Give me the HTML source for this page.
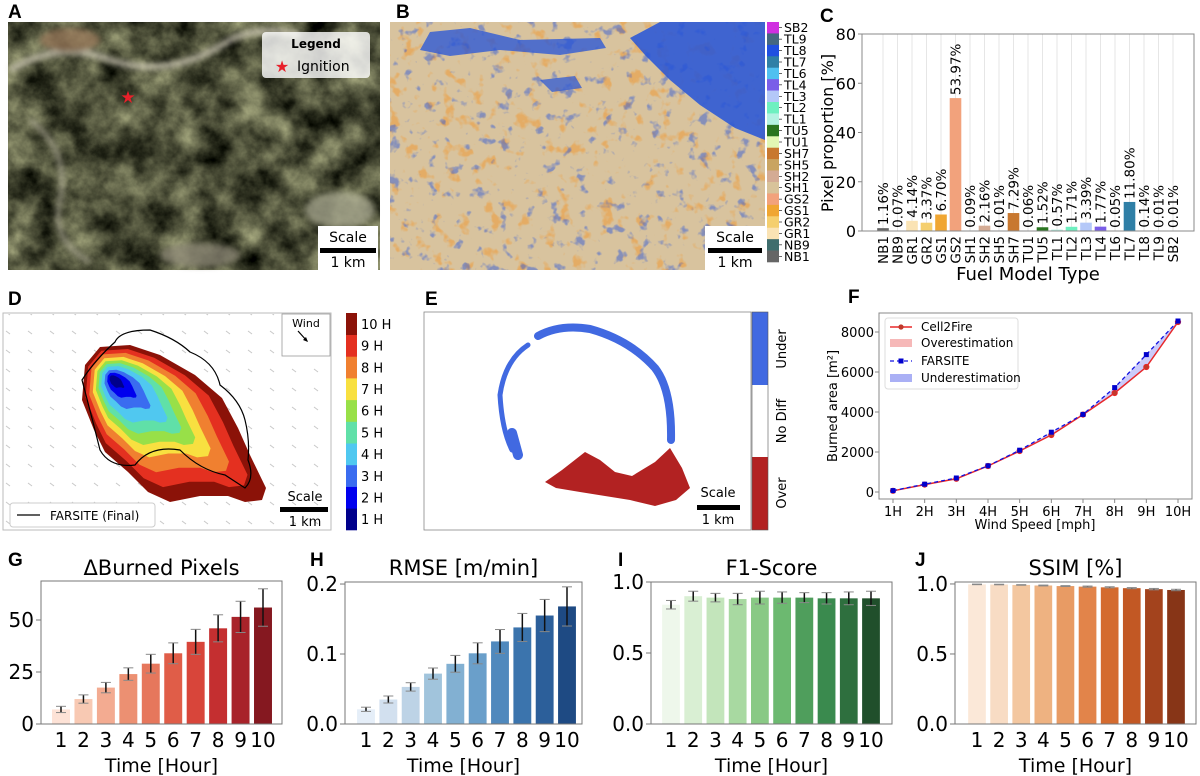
<!DOCTYPE html>
<html><head><meta charset="utf-8">
<style>
html,body{margin:0;padding:0;background:#fff;}
svg{display:block;font-family:"DejaVu Sans","Liberation Sans",sans-serif;}
</style></head>
<body>
<svg id="fig" width="1200" height="776" viewBox="0 0 1200 776" xmlns="http://www.w3.org/2000/svg">
<defs>
<filter id="satNoise" x="0" y="0" width="100%" height="100%" color-interpolation-filters="sRGB">
<feTurbulence type="fractalNoise" baseFrequency="0.03" numOctaves="5" seed="7"/>
<feColorMatrix type="matrix" values="0.95 0 0 0 -0.17  0.95 0 0 0 -0.16  0.75 0 0 0 -0.15  0 0 0 0 1"/>
</filter>
<filter id="fuelNoise" x="0" y="0" width="100%" height="100%" color-interpolation-filters="sRGB">
<feTurbulence type="fractalNoise" baseFrequency="0.07" numOctaves="3" seed="3"/>
<feColorMatrix type="matrix" values="0 0 0 0 0.93  0 0 0 0 0.62  0 0 0 0 0.25  7 0 0 0 -4.2"/>
</filter>
<filter id="blueNoise" x="0" y="0" width="100%" height="100%" color-interpolation-filters="sRGB">
<feTurbulence type="fractalNoise" baseFrequency="0.08" numOctaves="3" seed="11"/>
<feColorMatrix type="matrix" values="0 0 0 0 0.14  0 0 0 0 0.32  0 0 0 0 0.86  7 0 0 0 -4.4"/>
</filter>
<filter id="blur3"><feGaussianBlur stdDeviation="3"/></filter>
<pattern id="windDash" width="22" height="19" patternUnits="userSpaceOnUse">
<line x1="6" y1="8" x2="10" y2="11" stroke="#c8c8c8" stroke-width="1"/>
</pattern>
</defs>

<!-- Panel A -->
<g>
<text x="8" y="18" font-size="19" font-weight="bold" font-family="Liberation Sans, sans-serif">A</text>
<rect x="8" y="22" width="372" height="248" fill="#4a4c38"/>
<rect x="8" y="22" width="372" height="248" filter="url(#satNoise)"/>
<g filter="url(#blur3)" opacity="0.75">
<path d="M10,70 Q60,40 110,60 Q170,80 230,40 Q260,25 300,35" stroke="#d8d2c0" stroke-width="6" fill="none"/>
<path d="M30,120 Q70,150 60,200 Q50,240 90,262" stroke="#b8b4a0" stroke-width="4" fill="none"/>
<ellipse cx="340" cy="210" rx="35" ry="18" fill="#a8a890"/>
<ellipse cx="200" cy="255" rx="40" ry="12" fill="#8f8a78"/>
<ellipse cx="70" cy="40" rx="30" ry="12" fill="#a08060"/>
</g>
<g>
<rect x="262" y="32" width="108" height="46" rx="4" fill="#ffffff" opacity="0.8"/>
<text x="316" y="48" font-size="12" font-weight="bold" text-anchor="middle">Legend</text>
<text x="282" y="72" font-size="16" fill="#e8202a" text-anchor="middle">★</text>
<text x="297" y="71" font-size="14">Ignition</text>
</g>
<text x="128" y="103" font-size="17" fill="#e8202a" text-anchor="middle">★</text>
<g>
<rect x="318" y="226" width="60" height="44" fill="#fff"/>
<text x="348" y="242" font-size="14" text-anchor="middle">Scale</text>
<rect x="320" y="248" width="56" height="5" fill="#000"/>
<text x="348" y="267" font-size="14" text-anchor="middle">1 km</text>
</g>
</g>

<!-- Panel B -->
<g>
<text x="396" y="18" font-size="19" font-weight="bold" font-family="Liberation Sans, sans-serif">B</text>
<rect x="390" y="22" width="375" height="248" fill="#d8c39e"/>
<rect x="390" y="22" width="375" height="248" filter="url(#fuelNoise)" opacity="0.6"/>
<rect x="390" y="22" width="375" height="248" filter="url(#blueNoise)" opacity="0.45"/>
<g fill="#2453d8">
<path d="M660,22 L765,22 L765,140 L735,128 L700,105 L670,80 L645,55 L630,38 Z" opacity="0.85"/>
<path d="M430,32 L470,28 L520,40 L600,38 L606,48 L560,55 L500,50 L450,56 L420,50 Z" opacity="0.75"/>
<path d="M540,80 L575,76 L582,88 L552,92 Z" opacity="0.7"/>
</g>
<g>
<rect x="705" y="226" width="60" height="44" fill="#fff"/>
<text x="735" y="242" font-size="14" text-anchor="middle">Scale</text>
<rect x="708" y="248" width="54" height="5" fill="#000"/>
<text x="735" y="267" font-size="14" text-anchor="middle">1 km</text>
</g>
<g id="fuelBar"></g>
</g>

<!-- Panel C -->
<g id="panelC">
<text x="820" y="22" font-size="19" font-weight="bold" font-family="Liberation Sans, sans-serif">C</text>
</g>

<!-- Panel D -->
<g>
<text x="8" y="305" font-size="19" font-weight="bold" font-family="Liberation Sans, sans-serif">D</text>
<rect x="3" y="313" width="328" height="217" fill="#fff" stroke="#bbb"/>
<rect x="4" y="314" width="326" height="215" fill="url(#windDash)"/>
<g id="fireLayers"></g>
<path d="M115,342 Q120,330 150,330 Q175,338 190,352 Q215,362 220,385 Q240,400 245,420 Q250,440 248,460 Q255,478 245,488 L225,475 Q200,470 180,450 Q150,445 135,465 Q110,468 100,450 Q90,410 82,380 Q95,360 115,342 Z" fill="none" stroke="#000" stroke-width="1.2"/>
<g>
<rect x="282" y="314" width="48" height="42" fill="#fff" stroke="#999" stroke-width="0.8"/>
<text x="306" y="327" font-size="11" text-anchor="middle">Wind</text>
<line x1="298" y1="331" x2="307" y2="341" stroke="#000" stroke-width="1.2"/>
<path d="M308,342 L303,340 L306,337 Z" fill="#000"/>
</g>
<g>
<rect x="10" y="503" width="145" height="24" rx="3" fill="#fff" stroke="#ccc"/>
<line x1="17" y1="515" x2="40" y2="515" stroke="#000" stroke-width="1.3"/>
<text x="50" y="520" font-size="12">FARSITE (Final)</text>
</g>
<g>
<text x="305" y="501" font-size="13" text-anchor="middle">Scale</text>
<rect x="280" y="507" width="48" height="5" fill="#000"/>
<text x="305" y="526" font-size="13" text-anchor="middle">1 km</text>
</g>
<g id="timeBar"></g>
</g>

<!-- Panel E -->
<g>
<text x="425" y="305" font-size="19" font-weight="bold" font-family="Liberation Sans, sans-serif">E</text>
<rect x="424" y="312" width="327" height="218" fill="#fff" stroke="#888" stroke-width="0.8"/>
<g fill="none" stroke="#4169e1" stroke-linecap="round">
<path d="M538,336 Q560,324 590,329 Q630,340 655,368 Q672,390 671,440" stroke-width="8"/>
<path d="M528,345 Q505,360 500,395 Q502,430 512,450" stroke-width="5"/>
<path d="M512,433 L518,455" stroke-width="10"/>
</g>
<path d="M545,482 L562,470 L585,452 L600,460 L615,472 L632,476 L655,462 L670,448 L682,468 L690,488 L676,500 L655,506 L630,500 L605,496 L580,492 L556,488 Z" fill="#b22222"/>
<g>
<text x="718" y="497" font-size="13" text-anchor="middle">Scale</text>
<rect x="697" y="505" width="43" height="5" fill="#000"/>
<text x="718" y="524" font-size="13" text-anchor="middle">1 km</text>
</g>
<g>
<rect x="752" y="312" width="16" height="73" fill="#4169e1"/>
<rect x="752" y="385" width="16" height="72" fill="#fff"/>
<rect x="752" y="457" width="16" height="73" fill="#b22222"/>
<rect x="752" y="312" width="16" height="218" fill="none" stroke="#555" stroke-width="0.6"/>
<text transform="translate(786,349) rotate(-90)" font-size="13" text-anchor="middle">Under</text>
<text transform="translate(786,421) rotate(-90)" font-size="13" text-anchor="middle">No Diff</text>
<text transform="translate(786,493) rotate(-90)" font-size="13" text-anchor="middle">Over</text>
</g>
</g>

<!-- Panel F -->
<g id="panelF">
<text x="848" y="303" font-size="19" font-weight="bold" font-family="Liberation Sans, sans-serif">F</text>
</g>

<g id="bottom"></g>
</svg>

<script>
// ---- Panel C data ----
const fuelCats = ["NB1","NB9","GR1","GR2","GS1","GS2","SH1","SH2","SH5","SH7","TU1","TU5","TL1","TL2","TL3","TL4","TL6","TL7","TL8","TL9","SB2"];
const fuelVals = [1.16,0.07,4.14,3.37,6.70,53.97,0.09,2.16,0.01,7.29,0.06,1.52,0.57,1.71,3.39,1.77,0.05,11.80,0.14,0.01,0.01];
const fuelLabels = ["1.16%","0.07%","4.14%","3.37%","6.70%","53.97%","0.09%","2.16%","0.01%","7.29%","0.06%","1.52%","0.57%","1.71%","3.39%","1.77%","0.05%","11.80%","0.14%","0.01%","0.01%"];
const fuelColors = ["#666666","#3f6d6d","#fae3b4","#f5cf6e","#f0a632","#f2a27c","#d8c39a","#d4ab94","#c9a461","#c8782f","#e2f7b4","#2a7520","#b4f2e2","#6ef0c0","#b4c8f8","#7a5ee8","#50c0f0","#2f7fa6","#2050e0","#456880","#d030e0"];
const fuelTicks = [0,20,40,60,80];

// ---- Panel F data ----
const windCats = ["1H","2H","3H","4H","5H","6H","7H","8H","9H","10H"];
const cell2fire = [60,370,660,1300,2050,2850,3870,4950,6250,8500];
const farsite = [70,390,700,1310,2090,2990,3880,5220,6870,8550];
const fTicks = [0,2000,4000,6000,8000];

// ---- Bottom panels data ----
const hours = ["1","2","3","4","5","6","7","8","9","10"];
const burnedVals = [7,12,17.5,24,29,34,39.5,46,51.5,56];
const burnedErr = [1.5,2,2.5,3,4.5,5,6,6.5,7.5,9];
const rmseVals = [0.021,0.035,0.053,0.072,0.086,0.101,0.118,0.138,0.155,0.168];
const rmseErr = [0.003,0.005,0.006,0.008,0.012,0.015,0.017,0.02,0.023,0.028];
const f1Vals = [0.84,0.90,0.89,0.88,0.89,0.89,0.89,0.885,0.885,0.885];
const f1Err = [0.03,0.035,0.03,0.04,0.045,0.04,0.035,0.04,0.045,0.05];
const ssimVals = [0.997,0.996,0.993,0.989,0.985,0.981,0.976,0.970,0.963,0.957];
const ssimErr = [0.002,0.002,0.002,0.003,0.003,0.004,0.004,0.004,0.005,0.005];
const burnedTicks = [0,25,50];
const burnedTickLabels = ["0","25","50"];
const rmseTicks = [0,0.1,0.2];
const rmseTickLabels = ["0.0","0.1","0.2"];
const unitTicks = [0,0.5,1.0];
const unitTickLabels = ["0.0","0.5","1.0"];

const NS = "http://www.w3.org/2000/svg";
function mk(tag, attrs, parent){
  const e = document.createElementNS(NS, tag);
  for (const k in attrs) e.setAttribute(k, attrs[k]);
  if (parent) parent.appendChild(e);
  return e;
}
function txt(parent, x, y, s, size, anchor, extra){
  const t = mk("text", Object.assign({x:x, y:y, "font-size":size, "text-anchor":anchor||"start"}, extra||{}), parent);
  t.textContent = s;
  return t;
}

// ---- Fuel colorbar (B) ----
(function(){
  const g = document.getElementById("fuelBar");
  const top = 22, h = 240, n = fuelCats.length, sh = h/n;
  for (let i=0;i<n;i++){
    const idx = n-1-i;
    const r = mk("rect",{x:767,y:top+i*sh,width:12,height:sh+0.3,fill:fuelColors[idx]},g);
    
    
    mk("line",{x1:779,y1:top+(i+0.5)*sh,x2:782,y2:top+(i+0.5)*sh,stroke:"#000","stroke-width":0.6},g);
    const t = txt(g, 784, top+(i+0.5)*sh+4.5, fuelCats[idx], 12.5);
    
    
  }
})();

// ---- Panel C ----
(function(){
  const g = document.getElementById("panelC");
  const X0=862, X1=1194, Y0=34, Y1=231, ymax=80;
  const xc = i => 883 + i*14.5;
  const y = v => Y1 - v/ymax*(Y1-Y0);
  fuelCats.forEach((c,i)=>{
    const gl = mk("line",{x1:xc(i),y1:Y0,x2:xc(i),y2:Y1,stroke:"#e6e6e6","stroke-width":1},g);
    
    
  });
  fuelVals.forEach((v,i)=>{
    const b = mk("rect",{x:xc(i)-5.8,y:y(v),width:11.6,height:Y1-y(v),fill:fuelColors[i]},g);
    
    
    const l = txt(g,0,0,fuelLabels[i],13.5,"start",{transform:"translate("+(xc(i)+5)+","+(y(v)-3)+") rotate(-90)"});
    
    
    const tl = txt(g,0,0,fuelCats[i],13.5,"end",{transform:"translate("+(xc(i)+5)+",236) rotate(-90)"});
    
    
  });
  const fr = mk("rect",{x:X0,y:Y0,width:X1-X0,height:Y1-Y0,fill:"none",stroke:"#888","stroke-width":1},g);
  
  
  fuelTicks.forEach(v=>{
    mk("line",{x1:X0-4,y1:y(v),x2:X0,y2:y(v),stroke:"#888"},g);
    const t = txt(g,X0-6,y(v)+6,String(v),16,"end");
    
    
  });
  const yl = txt(g,0,0,"Pixel proportion [%]",16,"middle",{transform:"translate(833,133) rotate(-90)"});
  
  
  const xl = txt(g,1028,280,"Fuel Model Type",18,"middle");
  
  
})();

// ---- Panel D fire layers & colorbar ----
(function(){
  const g = document.getElementById("fireLayers");
  const outer = [[85,365],[100,347],[130,345],[160,355],[195,375],[222,398],[238,428],[250,455],[266,488],[262,500],[245,502],[228,496],[200,496],[170,502],[148,492],[128,472],[105,452],[94,430],[82,400]];
  const cols = ["#8b1208","#e43020","#f08030","#f8e040","#98e048","#60e0a8","#50c8f0","#3a6cf0","#0000ee","#00008b"];
  const scales = [1,0.88,0.76,0.64,0.54,0.45,0.36,0.25,0.16,0.08];
  const fx=112, fy=378;
  cols.forEach((c,k)=>{
    const s = scales[k];
    const pts = outer.map(p=>(fx+(p[0]-fx)*s).toFixed(1)+","+(fy+(p[1]-fy)*s).toFixed(1)).join(" ");
    const p = mk("polygon",{points:pts,fill:c},g);
    
    
  });
  const tb = document.getElementById("timeBar");
  const top=313, h=217, sh=h/10;
  for (let i=0;i<10;i++){
    const r = mk("rect",{x:346,y:top+(9-i)*sh,width:11,height:sh+0.3,fill:cols[9-i]},tb);
    
    
    const t = txt(tb,361,top+(9-i+0.5)*sh+5,(i+1)+" H",13);
    
    
  }
})();

// ---- Panel F ----
(function(){
  const g = document.getElementById("panelF");
  const X0=879, X1=1192, Y0=313, Y1=499;
  const x = i => 893 + i*(1178-893)/9;
  const y = v => 492 - v*0.02;
  const poly = farsite.map((v,i)=>x(i)+","+y(v)).concat(cell2fire.map((v,i)=>x(i)+","+y(v)).reverse()).join(" ");
  const fill = mk("polygon",{points:poly,fill:"#6a6af0","fill-opacity":0.35},g);
  
  
  const l1 = mk("polyline",{points:cell2fire.map((v,i)=>x(i)+","+y(v)).join(" "),fill:"none",stroke:"#e8282a","stroke-width":1.5},g);
  
  
  cell2fire.forEach((v,i)=>{
    const c = mk("circle",{cx:x(i),cy:y(v),r:2.6,fill:"#c0392b",stroke:"#e8282a"},g);
    
    
  });
  const l2 = mk("polyline",{points:farsite.map((v,i)=>x(i)+","+y(v)).join(" "),fill:"none",stroke:"#1010e0","stroke-width":1.3,"stroke-dasharray":"4,3"},g);
  
  
  farsite.forEach((v,i)=>{
    const c = mk("rect",{x:x(i)-2.5,y:y(v)-2.5,width:5,height:5,fill:"#0000cc"},g);
    
    
  });
  const fr = mk("rect",{x:X0,y:Y0,width:X1-X0,height:Y1-Y0,fill:"none",stroke:"#888"},g);
  
  
  fTicks.forEach(v=>{
    mk("line",{x1:X0-4,y1:y(v),x2:X0,y2:y(v),stroke:"#888"},g);
    const t = txt(g,X0-5,y(v)+5,String(v),13,"end");
    
    
  });
  windCats.forEach((c,i)=>{
    mk("line",{x1:x(i),y1:Y1,x2:x(i),y2:Y1+4,stroke:"#888"},g);
    const t = txt(g,x(i),Y1+17,c,13,"middle");
    
    
  });
  const xl = txt(g,1035,529,"Wind Speed [mph]",13,"middle");
  
  
  const yl = txt(g,0,0,"Burned area [m²]",13,"middle",{transform:"translate(837,406) rotate(-90)"});
  
  
  const lg = mk("g",{},g);
  
  
  mk("rect",{x:885,y:318,width:133,height:71,rx:3,fill:"#fff",stroke:"#ddd"},lg);
  mk("line",{x1:890,y1:327,x2:912,y2:327,stroke:"#e8282a","stroke-width":1.5},lg);
  mk("circle",{cx:901,cy:327,r:2.6,fill:"#c0392b"},lg);
  txt(lg,921,331,"Cell2Fire",12);
  mk("rect",{x:890,y:339,width:22,height:8,fill:"#f4a6a6","fill-opacity":0.8},lg);
  txt(lg,921,347,"Overestimation",12);
  mk("line",{x1:890,y1:361,x2:912,y2:361,stroke:"#1010e0","stroke-width":1.3,"stroke-dasharray":"4,3"},lg);
  mk("rect",{x:898.5,y:358.5,width:5,height:5,fill:"#0000cc"},lg);
  txt(lg,921,365,"FARSITE",12);
  mk("rect",{x:890,y:374,width:22,height:8,fill:"#aab0f5"},lg);
  txt(lg,921,382,"Underestimation",12);
})();

// ---- Bottom bar panels ----
function barPanel(name, letter, letterX, title, X0, X1, YT, ymax, c1, c10, vals, errs, ticks, tickLabels, colors){
  const root = document.getElementById("bottom");
  const g = mk("g",{},root);
  
  
  const Y1 = 724;
  const step = (c10-c1)/9;
  const x = i => c1 + i*step;
  const y = v => Y1 - v/ymax*(Y1-YT);
  vals.forEach((v,i)=>{
    const b = mk("rect",{x:x(i)-0.4*step,y:y(v),width:0.8*step,height:Y1-y(v),fill:colors[i]},g);
    
    
    const e = errs[i];
    const eb = mk("g",{stroke:"#111","stroke-width":1.5},g);
    
    
    mk("line",{x1:x(i),y1:y(v+e),x2:x(i),y2:y(v-e)},eb);
    mk("line",{x1:x(i)-5,y1:y(v+e),x2:x(i)+5,y2:y(v+e),stroke:"#888","stroke-width":1},eb);
    mk("line",{x1:x(i)-5,y1:y(v-e),x2:x(i)+5,y2:y(v-e),stroke:"#888","stroke-width":1},eb);
    const t = txt(g,x(i),747,hours[i],20,"middle");
    
    
  });
  const fr = mk("rect",{x:X0,y:YT,width:X1-X0,height:Y1-YT,fill:"none",stroke:"#777","stroke-width":1},g);
  
  
  ticks.forEach((v,k)=>{
    mk("line",{x1:X0-5,y1:y(v),x2:X0,y2:y(v),stroke:"#777"},g);
    const t = txt(g,X0-7,y(v)+7,tickLabels[k],20,"end");
    
    
  });
  const tt = txt(g,(X0+X1)/2,575,title,21,"middle");
  
  
  const xl = txt(g,(X0+X1)/2,772,"Time [Hour]",19,"middle");
  
  
  const lt = txt(g,letterX,566,letter,19,"start",{"font-weight":"bold","font-family":"Liberation Sans, sans-serif"});
  
  
}
const redsPal = ["#fde2d6","#f8c9b3","#f3ab91","#ec9072","#e6775c","#e05d48","#d8453a","#c42f30","#a8232a","#851820"];
const bluesPal = ["#e5eef8","#d2e0ef","#bdd3e6","#a1c4dc","#82b0d2","#6a9fca","#5089bd","#3b74ad","#2c5f9a","#1e4a83"];
const greensPal = ["#eef7eb","#d9efd3","#c3e5bb","#a8d9a1","#89c985","#6cb970","#4f9e5c","#3a8a4e","#2e6f3e","#204f2b"];
const orangesPal = ["#fbe8d8","#f8dcc4","#f3c7a0","#eeb281","#e89b64","#e2844a","#d46b2f","#c25824","#a3431d","#873517"];
barPanel("panel-g","G",8,"ΔBurned Pixels",41,282,581,68.75,61,263,burnedVals,burnedErr,burnedTicks,burnedTickLabels,redsPal);
barPanel("panel-h","H",310,"RMSE [m/min]",345,582,582,0.2029,366,567,rmseVals,rmseErr,rmseTicks,rmseTickLabels,bluesPal);
barPanel("panel-i","I",618,"F1-Score",651,892,582,1.0,671,871,f1Vals,f1Err,unitTicks,unitTickLabels,greensPal);
barPanel("panel-j","J",915,"SSIM [%]",955,1196,582,1.014,977,1176,ssimVals,ssimErr,unitTicks,unitTickLabels,orangesPal);
</script>
</body></html>
